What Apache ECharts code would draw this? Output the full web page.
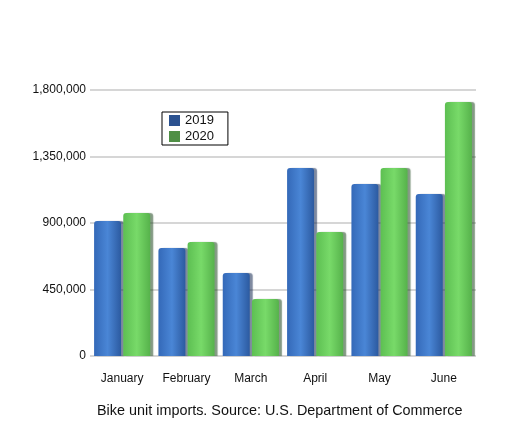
<!DOCTYPE html>
<html>
<head>
<meta charset="utf-8">
<script src="https://cdn.jsdelivr.net/npm/echarts@6/dist/echarts.min.js"></script>
<style>
  html, body { margin: 0; padding: 0; background: #fff; }
  #chart { width: 510px; height: 444px; }
</style>
</head>
<body>
<div id="chart"></div>
<script>
// values
var months = ['January', 'February', 'March', 'April', 'May', 'June']
var imports2019 = [913000, 731000, 562000, 1272000, 1164000, 1096000]
var imports2020 = [968000, 771000, 386000, 839000, 1272000, 1719000]
var yTicks = [0, 450000, 900000, 1350000, 1800000]

var chart = echarts.init(document.getElementById('chart'))

function barGrad(c1, c2, c3) {
    return new echarts.graphic.LinearGradient(0, 0, 1, 0, [
        { offset: 0, color: c1 },
        { offset: 0.5, color: c2 },
        { offset: 1, color: c3 }
    ])
}

chart.setOption({
    animation: false,
    textStyle: { fontFamily: 'Liberation Sans, Arial, sans-serif' },
    title: {
        text: 'Bike unit imports. Source: U.S. Department of Commerce',
        left: 92,
        top: 399,
        textStyle: { fontSize: 14.4, fontWeight: 'normal', color: '#111' }
    },
    legend: {
        orient: 'vertical',
        left: 162,
        top: 112,
        icon: 'rect',
        itemWidth: 11,
        itemHeight: 11,
        itemGap: 3,
        padding: [2, 14, 2, 7],
        borderColor: '#000',
        borderWidth: 1,
        textStyle: { fontSize: 13, color: '#111' },
        data: [
            { name: '2019', itemStyle: { color: '#2b5290' } },
            { name: '2020', itemStyle: { color: '#4f8f45' } }
        ]
    },
    grid: { left: 90, right: 34, top: 90, bottom: 88 },
    xAxis: {
        type: 'category',
        data: months,
        axisLine: { show: false },
        axisTick: { show: false },
        axisLabel: { fontSize: 12, color: '#111', margin: 17 }
    },
    yAxis: {
        type: 'value',
        min: 0,
        max: yTicks[yTicks.length - 1],
        interval: yTicks[1] - yTicks[0],
        axisLine: { show: false },
        axisTick: { show: false },
        axisLabel: {
            fontSize: 12,
            color: '#111',
            margin: 4,
            formatter: function (v) { return v.toLocaleString('en-US') }
        },
        splitLine: { lineStyle: { color: '#c8c8c8', width: 1.5 } }
    },
    series: [{
        name: '2019',
        type: 'bar',
        data: imports2019,
        barWidth: 27,
        barGap: '8%',
        itemStyle: {
            color: barGrad('#3469b8', '#4a86d6', '#2c5aa0'),
            borderRadius: [3, 3, 0, 0],
            shadowColor: 'rgba(20,40,80,0.55)',
            shadowOffsetX: 3,
            shadowBlur: 1
        }
    }, {
        name: '2020',
        type: 'bar',
        data: imports2020,
        barWidth: 27,
        itemStyle: {
            color: barGrad('#5dbf52', '#78da69', '#56b24b'),
            borderRadius: [3, 3, 0, 0],
            shadowColor: 'rgba(30,70,30,0.55)',
            shadowOffsetX: 3,
            shadowBlur: 1
        }
    }]
})
</script>
</body>
</html>
